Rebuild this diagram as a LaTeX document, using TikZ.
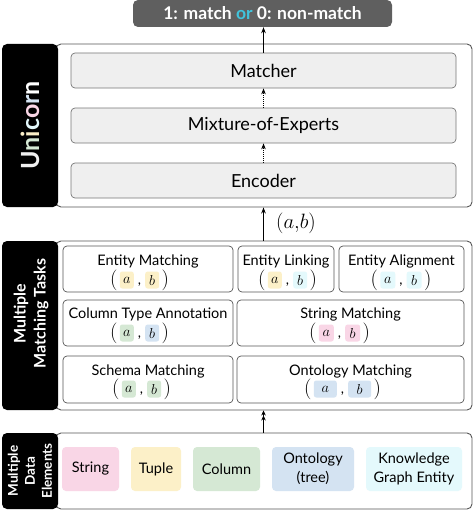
\documentclass[tikz,border=0pt]{standalone}
\usepackage{fontspec}
\setmainfont{Lato}
\newfontfamily\unifont{Lato}[LetterSpace=22]
\usetikzlibrary{arrows.meta}
\usetikzlibrary{positioning}

\definecolor{cpink}{RGB}{249,214,230}
\definecolor{cyellow}{RGB}{252,240,200}
\definecolor{cgreen}{RGB}{213,232,212}
\definecolor{cblue}{RGB}{212,227,242}
\definecolor{ccyan}{RGB}{228,249,252}
\definecolor{layerbg}{RGB}{239,239,239}
\definecolor{outbg}{RGB}{95,95,95}
\definecolor{orcol}{RGB}{64,196,220}
\definecolor{edge}{RGB}{85,85,85}

\tikzset{
  panel/.style={draw=edge, fill=white, rounded corners=5pt, line width=0.9pt, minimum width=416pt},
  tab/.style={fill=black, rounded corners=5pt, minimum width=56pt},
  tabtext/.style={text=white, align=center, rotate=90, inner sep=0pt},
  layer/.style={draw=edge!80, fill=layerbg, rounded corners=4pt, line width=0.7pt, minimum width=385pt, minimum height=35pt, font=\fontsize{18}{20}\selectfont},
  task/.style={draw=edge, rounded corners=4pt, line width=0.7pt},
  ttl/.style={font=\fontsize{14.5}{16}\selectfont, inner sep=0pt},
  pill/.style={rounded corners=2.5pt, minimum height=17pt, inner sep=0pt, font=\fontsize{14}{14}\selectfont},
  paren/.style={inner sep=0pt, font=\fontsize{21}{21}\selectfont},
  elem/.style={rounded corners=4pt, minimum height=44pt, inner sep=0pt, align=center, font=\fontsize{14.5}{19}\selectfont},
  arr/.style={-{Stealth[length=6pt,width=4.5pt]}, line width=1pt},
}

% ( a , b ) pair below a task title
\newcommand\pair[5]{%
  \coordinate (#1) at #2;
  \node[pill, fill=#3, minimum width=#5, anchor=east] (#1a) at ([xshift=-5.5pt]#1) {$a$};
  \node[pill, fill=#4, minimum width=#5, anchor=west] (#1b) at ([xshift=5.5pt]#1) {$b$};
  \node[paren, left=2pt of #1a] (#1l) {$($};
  \node[paren, right=2pt of #1b] (#1r) {$)$};
  \node[inner sep=0pt, font=\fontsize{14}{14}\selectfont] (#1c) at ([yshift=-5pt]#1) {,};
}

\begin{document}
\begin{tikzpicture}[x=1pt, y=-1pt]
    \useasboundingbox (0,0) rectangle (474,511);
    \clip (0,0) rectangle (474,511);

    % Output
    \node[fill=outbg, rounded corners=5pt, minimum width=259pt, minimum height=27pt, text=white,
          font=\bfseries\fontsize{17.5}{17.5}\selectfont] (out) at (262.5,13.5)
          {1: match \textcolor{orcol}{or} 0: non-match};

    % Unicorn
    \node[panel, minimum height=163pt] (upanel) at (264,125.5) {};
    \node[tab, minimum height=163pt] (utab) at (30,125.5) {};
    \node[tabtext, font=\unifont\bfseries\fontsize{25}{25}\selectfont] (uname) at (utab)
        {\textcolor{white!94!black}{U}\textcolor{cgreen}{n}\textcolor{cyellow}{i}\textcolor{ccyan}{c}\textcolor{cpink}{o}\textcolor{cblue}{r}\textcolor{white}{n}};
    \node[layer] (matcher) at (263.5,70.5) {Matcher};
    \node[layer] (moe) at (263.5,125.5) {Mixture-of-Experts};
    \node[layer] (enc) at (263.5,180.5) {Encoder};
    \draw[arr, densely dotted] (enc.north) -- (moe.south);
    \draw[arr, densely dotted] (moe.north) -- (matcher.south);
    \draw[arr] (matcher.north) -- (matcher.north |- out.south);

    % Multiple matching tasks
    \node[panel, minimum height=169pt] (tpanel) at (264,325.5) {};
    \node[tab, minimum height=169pt] (ttab) at (30,325.5) {};
    \node[tabtext, font=\bfseries\fontsize{16}{20}\selectfont] (tname) at ([xshift=1pt,yshift=12pt]ttab) {Multiple\\Matching Tasks};
    \draw[arr] (tpanel.north -| enc.south) -- (upanel.south -| enc.south);
    \node[font=\fontsize{21}{21}\selectfont, inner sep=0pt] (ab) at (296,223) {$(a{,}b)$};

    \node[task, minimum width=170pt, minimum height=46pt] (em) at (148,269) {};
    \node[task, minimum width=96pt, minimum height=46pt] (el) at (286,269) {};
    \node[task, minimum width=125pt, minimum height=46pt] (ea) at (401.5,269) {};
    \node[task, minimum width=170pt, minimum height=46pt] (cta) at (148,323) {};
    \node[task, minimum width=227pt, minimum height=46pt] (sm) at (350.5,323) {};
    \node[task, minimum width=170pt, minimum height=47pt] (scm) at (148,379.5) {};
    \node[task, minimum width=227pt, minimum height=47pt] (om) at (350.5,379.5) {};

    \node[ttl] (emt) at (148,261) {Entity Matching};
    \node[ttl] (elt) at (286,261) {Entity Linking};
    \node[ttl] (eat) at (401.5,261) {Entity Alignment};
    \node[ttl] (ctat) at (148,314) {Column Type Annotation};
    \node[ttl] (smt) at (350.5,314) {String Matching};
    \node[ttl] (scmt) at (148,371) {Schema Matching};
    \node[ttl] (omt) at (350.5,371) {Ontology Matching};

    \pair{emp}{(139.5,280)}{cyellow}{cyellow}{14pt}
    \pair{elp}{(287.5,280)}{cyellow}{ccyan}{14pt}
    \pair{eap}{(401,280)}{ccyan}{ccyan}{15pt}
    \pair{ctap}{(139.5,333)}{cgreen}{cblue}{14pt}
    \pair{smp}{(339.5,333)}{cpink}{cpink}{15pt}
    \pair{scmp}{(141.5,389)}{cgreen}{cgreen}{14pt}
    \pair{omp}{(342.5,389)}{cblue}{cblue}{23pt}

    % Multiple data elements
    \node[panel, minimum height=76pt] (dpanel) at (264,471) {};
    \node[tab, minimum height=76pt] (dtab) at (30,471) {};
    \node[tabtext, font=\bfseries\fontsize{13.5}{17}\selectfont] (dname) at (dtab) {Multiple\\Data\\Elements};
    \draw[-{Stealth[length=5pt,width=4.5pt]Stealth[length=5pt,width=4.5pt]}, line width=1pt]
        (dpanel.north -| enc.south) -- (tpanel.south -| enc.south);

    \node[elem, fill=cpink, minimum width=57pt] (str) at (90.5,469) {String};
    \node[elem, fill=cyellow, minimum width=50pt] (tup) at (156,469) {Tuple};
    \node[elem, fill=cgreen, minimum width=67pt] (col) at (226.5,469) {Column};
    \node[elem, fill=cblue, minimum width=82pt] (ont) at (313,469) {Ontology\\(tree)};
    \node[elem, fill=ccyan, minimum width=96pt] (kge) at (414,469) {Knowledge\\Graph Entity};
\end{tikzpicture}
\end{document}
